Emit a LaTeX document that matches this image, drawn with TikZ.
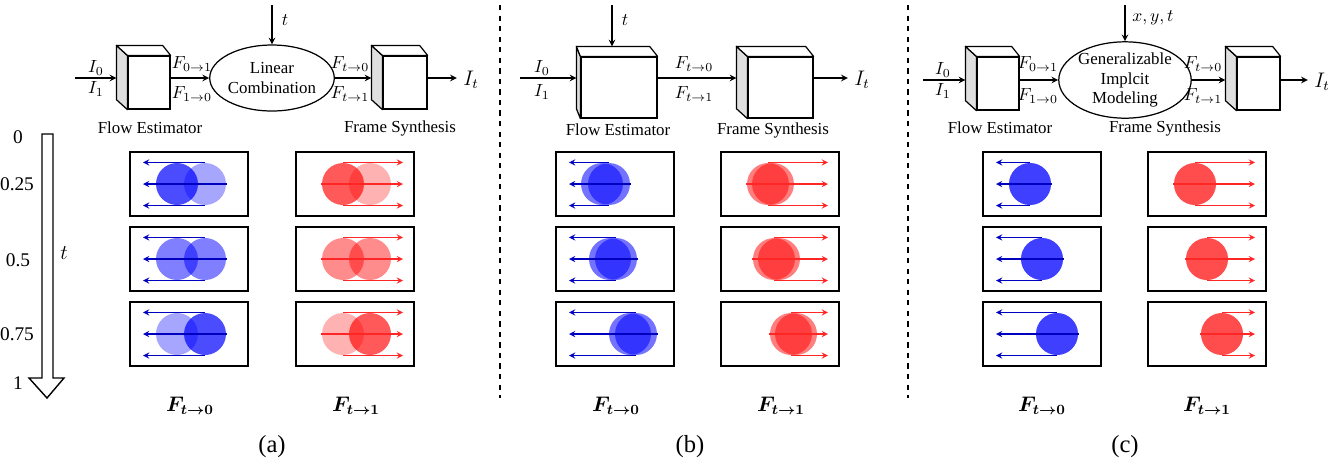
\documentclass[tikz,border=0pt]{standalone}
\usepackage{amsmath}
\usepackage[no-math]{fontspec}
\setmainfont{Liberation Serif}
\usetikzlibrary{shapes.geometric,calc}

% cube: name, centre x, centre y, width, height, side depth
\newcommand{\cubeblock}[6]{%
  \node[front, minimum width=#4*0.02cm, minimum height=#5*0.02cm] (#1) at (#2,#3) {};
  \draw[face, fill=gray!25] (#1.north west) -- ++(-#6,-10) -- ($(#1.south west)+(-#6,-10)$) -- (#1.south west) -- cycle;
  \draw[face, fill=white] (#1.north west) -- ++(-#6,-10) -- ($(#1.north east)+(-8,-10)$) -- (#1.north east) -- cycle;
  \coordinate (#1 s) at ($(#1.west)+(-#6,0)$);
  \coordinate (#1 t) at ($(#1.north)+(0,-10)$);
}

\begin{document}
\begin{tikzpicture}[x=0.02cm, y=-0.02cm, > = stealth, line width=0.7pt,
    front/.style={rectangle, draw, fill=white, inner sep=0pt},
    face/.style={line join=round},
    lbl/.style={font=\fontsize{9.6}{11}\selectfont, inner sep=1pt},
    mlbl/.style={font=\fontsize{10}{12}\selectfont, inner sep=1pt},
    flowbox/.style={rectangle, draw, line width=0.9pt, inner sep=0pt, minimum width=2.36cm, minimum height=1.28cm},
    blob/.style={circle, inner sep=0pt, minimum size=0.84cm},
    bflow/.style={->, line width=0.6pt, blue!75!black},
    rflow/.style={->, line width=0.6pt, red!85!white},
    fname/.style={font=\fontsize{12}{14}\selectfont},
    capt/.style={font=\fontsize{14}{16}\selectfont}]
    \useasboundingbox (0,0) rectangle (1330,468);

    % separators
    \draw[dashed, line width=0.8pt] (500,5) -- (500,398);
    \draw[dashed, line width=0.8pt] (908,5) -- (908,398);

    % time axis
    \draw[line width=0.8pt] (42,134) -- (53,134) -- (53,378) -- (64,378) -- (47,398) -- (29,378) -- (42,378) -- cycle;
    \node[font=\fontsize{11}{13}\selectfont] (s0) at (18,137) {0};
    \node[font=\fontsize{11}{13}\selectfont] (s1) at (17,184) {0.25};
    \node[font=\fontsize{11}{13}\selectfont] (s2) at (18,260) {0.5};
    \node[font=\fontsize{11}{13}\selectfont] (s3) at (17,334) {0.75};
    \node[font=\fontsize{11}{13}\selectfont] (s4) at (18,383) {1};
    \node[font=\fontsize{12}{14}\selectfont] (tax) at (64,253) {$t$};

    % (a) linear combination
    \cubeblock{fea}{149}{82.5}{42}{53}{11}
    \cubeblock{fsa}{405}{82.5}{44}{53}{11}
    \node[ellipse, draw, minimum width=2.2cm, minimum height=1.32cm, align=center, lbl, inner sep=0pt] (lca) at (272,78) {Linear\\Combination};
    \coordinate (ina) at (75,78);
    \node[mlbl] (i0a) at (96,68) {$I_0$};
    \node[mlbl] (i1a) at (96,89) {$I_1$};
    \draw[->] (ina) -- (ina -| fea s);
    \draw[->] (fea.east |- lca.west) -- (lca.west);
    \node[mlbl] (f01a) at (192,64) {$F_{0\to1}$};
    \node[mlbl] (f10a) at (192,94) {$F_{1\to0}$};
    \draw[->] (lca.east) -- (lca.east -| fsa s);
    \node[mlbl] (ft0a) at (350,64) {$F_{t\to0}$};
    \node[mlbl] (ft1a) at (350,94) {$F_{t\to1}$};
    \node[font=\fontsize{12}{14}\selectfont] (ita) at (471,80) {$I_t$};
    \draw[->] (fsa.east |- lca.east) -- (ita.west |- lca.east);
    \coordinate (tsa) at (272,5);
    \node[mlbl] (ta) at (285,20) {$t$};
    \draw[->] (tsa) -- (lca.north);
    \node[lbl] (lfea) at (150,128) {Flow Estimator};
    \node[lbl] (lfsa) at (400,128) {Frame Synthesis};

    % (b) direct
    \cubeblock{feb}{619}{87.5}{76}{61}{4}
    \cubeblock{fsb}{780.5}{87.5}{65}{61}{11}
    \coordinate (inb) at (520,78);
    \node[mlbl] (i0b) at (542,68) {$I_0$};
    \node[mlbl] (i1b) at (542,92) {$I_1$};
    \draw[->] (inb) -- (inb -| feb s);
    \draw[->] (feb.east |- inb) -- (inb -| fsb s);
    \node[mlbl] (ft0b) at (694,64) {$F_{t\to0}$};
    \node[mlbl] (ft1b) at (694,94) {$F_{t\to1}$};
    \node[font=\fontsize{12}{14}\selectfont] (itb) at (862,80) {$I_t$};
    \draw[->] (fsb.east |- inb) -- (itb.west |- inb);
    \coordinate (tsb) at (612,5);
    \node[mlbl] (tb) at (625,20) {$t$};
    \draw[->] (tsb) -- (tsb |- feb t);
    \node[lbl] (lfeb) at (618,130) {Flow Estimator};
    \node[lbl] (lfsb) at (773,130) {Frame Synthesis};

    % (c) implicit
    \cubeblock{fec}{998}{83.5}{42}{53}{11}
    \cubeblock{fsc}{1258.5}{83.5}{43}{53}{11}
    \node[ellipse, draw, minimum width=2.4cm, minimum height=1.52cm, align=center, lbl, inner sep=0pt] (gic) at (1125,80) {Generalizable\\Implcit\\Modeling};
    \coordinate (inc) at (923,80);
    \node[mlbl] (i0c) at (943,70) {$I_0$};
    \node[mlbl] (i1c) at (943,91) {$I_1$};
    \draw[->] (inc) -- (inc -| fec s);
    \draw[->] (fec.east |- gic.west) -- (gic.west);
    \node[mlbl] (f01c) at (1038,64) {$F_{0\to1}$};
    \node[mlbl] (f10c) at (1038,96) {$F_{1\to0}$};
    \draw[->] (gic.east) -- (gic.east -| fsc s);
    \node[mlbl] (ft0c) at (1203,64) {$F_{t\to0}$};
    \node[mlbl] (ft1c) at (1203,96) {$F_{t\to1}$};
    \node[font=\fontsize{12}{14}\selectfont] (itc) at (1322,82) {$I_t$};
    \draw[->] (fsc.east |- gic.east) -- (itc.west |- gic.east);
    \coordinate (tsc) at (1125,5);
    \node[mlbl] (tc) at (1153,18) {$x,y,t$};
    \draw[->] (tsc) -- (gic.north);
    \node[lbl] (lfec) at (1000,128) {Flow Estimator};
    \node[lbl] (lfsc) at (1165,128) {Frame Synthesis};

    % backward flows
    \foreach \n/\bx/\by/\xa/\oa/\xb/\ob in {
        ba1/130/184/177/.7/205/.35, ba2/130/259/177/.5/205/.5, ba3/130/334/177/.35/205/.7,
        bb1/556/184/602/.55/609/.55, bb2/556/259/610/.55/616/.55, bb3/556/334/630/.55/636/.55,
        bc1/983/184/1030/.5/1030/.5, bc2/983/259/1042/.5/1042/.5, bc3/983/334/1057/.5/1057/.5} {
        \node[flowbox] (\n) at (\bx+59,\by) {};
        \node[blob, fill=blue, fill opacity=\oa] (\n a) at (\xa,\by) {};
        \node[blob, fill=blue, fill opacity=\ob] (\n b) at (\xb,\by) {};
        \coordinate (\n L) at (\bx+13,\by);
        \draw[bflow] (\n b.north) -- (\n b.north -| \n L);
        \draw[bflow] (\n b.east) -- (\n L);
        \draw[bflow] (\n b.south) -- (\n b.south -| \n L);
    }

    % forward flows
    \foreach \n/\bx/\by/\xa/\oa/\xb/\ob in {
        ra1/296/184/343/.65/370/.3, ra2/296/259/343/.45/370/.45, ra3/296/334/343/.3/370/.65,
        rb1/721/184/768/.5/773/.5, rb2/721/259/774/.5/779/.5, rb3/721/334/791/.5/796/.5,
        rc1/1148/184/1195/.45/1195/.45, rc2/1148/259/1207/.45/1207/.45, rc3/1148/334/1222/.45/1222/.45} {
        \node[flowbox] (\n) at (\bx+59,\by) {};
        \node[blob, fill=red, fill opacity=\oa] (\n a) at (\xa,\by) {};
        \node[blob, fill=red, fill opacity=\ob] (\n b) at (\xb,\by) {};
        \coordinate (\n R) at (\bx+107,\by);
        \draw[rflow] (\n a.north) -- (\n a.north -| \n R);
        \draw[rflow] (\n a.west) -- (\n R);
        \draw[rflow] (\n a.south) -- (\n a.south -| \n R);
    }

    % column names and captions
    \node[fname] (na0) at (190,406) {$\boldsymbol{F_{t\to0}}$};
    \node[fname] (na1) at (356,406) {$\boldsymbol{F_{t\to1}}$};
    \node[fname] (nb0) at (616,406) {$\boldsymbol{F_{t\to0}}$};
    \node[fname] (nb1) at (781,406) {$\boldsymbol{F_{t\to1}}$};
    \node[fname] (nc0) at (1042,406) {$\boldsymbol{F_{t\to0}}$};
    \node[fname] (nc1) at (1207,406) {$\boldsymbol{F_{t\to1}}$};
    \node[capt] (cpa) at (272,447) {(a)};
    \node[capt] (cpb) at (690,447) {(b)};
    \node[capt] (cpc) at (1125,447) {(c)};
\end{tikzpicture}
\end{document}
